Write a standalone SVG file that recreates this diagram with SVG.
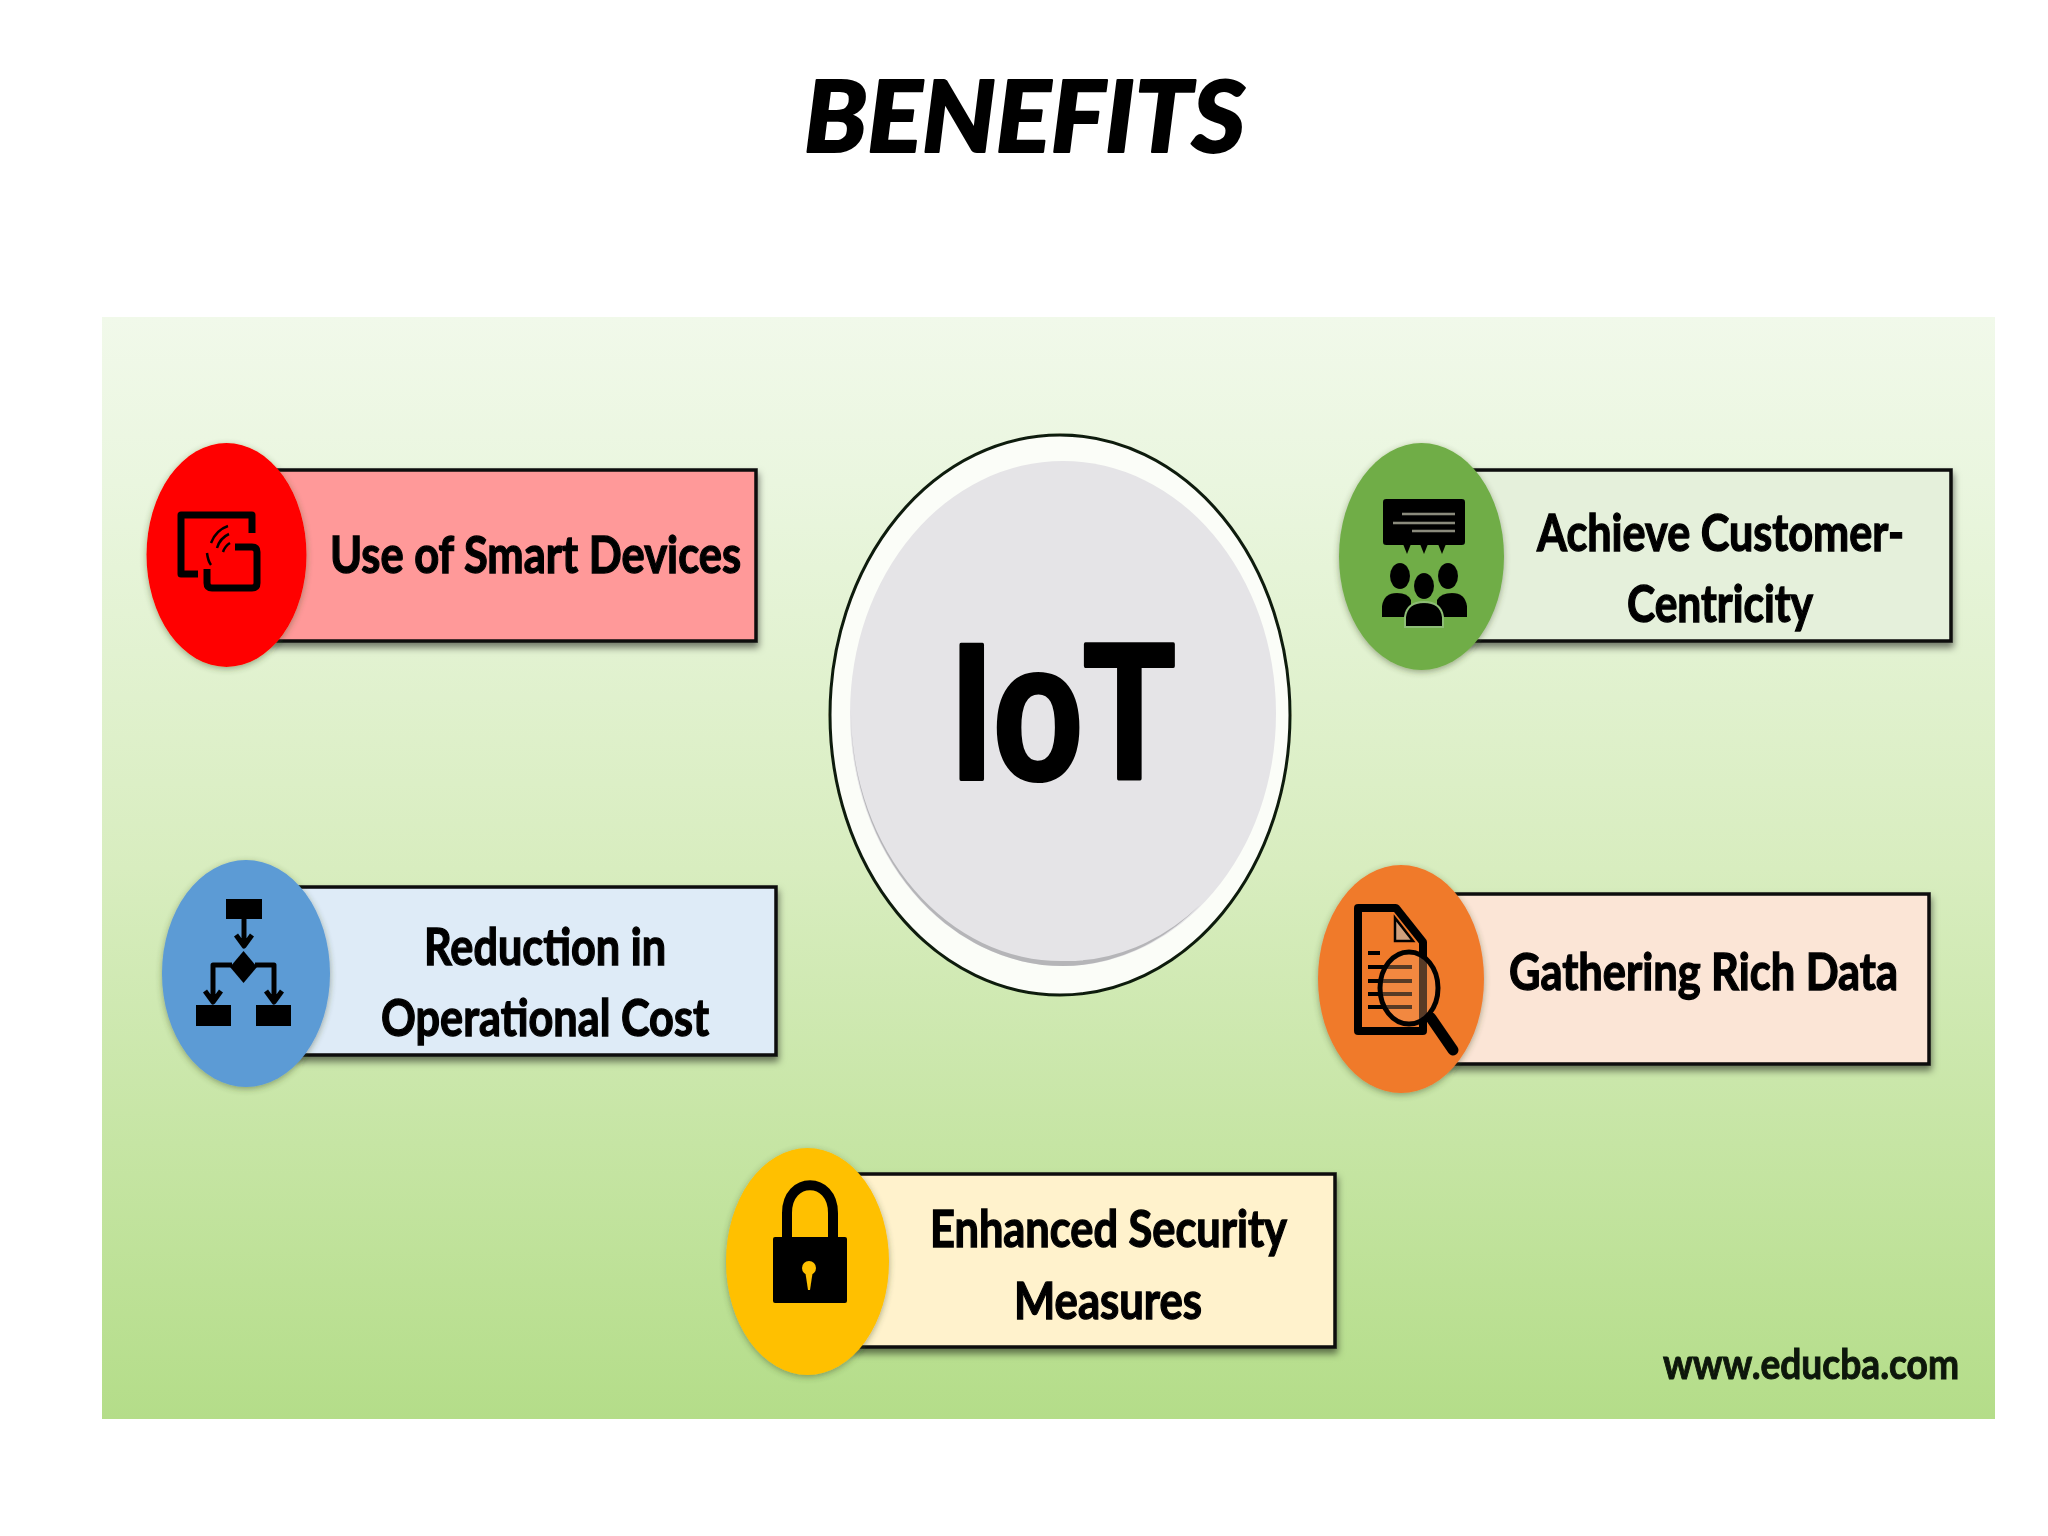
<svg xmlns="http://www.w3.org/2000/svg" width="2048" height="1536" viewBox="0 0 2048 1536">
  <defs>
    <linearGradient id="panelFill" x1="0" y1="0" x2="0" y2="1">
      <stop offset="0" stop-color="#f1f9ea"/>
      <stop offset="0.15" stop-color="#eaf6df"/>
      <stop offset="0.5" stop-color="#d8edbf"/>
      <stop offset="1" stop-color="#b4dd89"/>
    </linearGradient>
    <filter id="shadow" x="-15%" y="-15%" width="130%" height="135%">
      <feDropShadow dx="1" dy="5" stdDeviation="3.500" flood-color="#000" flood-opacity="0.5"/>
    </filter>
    <filter id="discShadow" x="-15%" y="-15%" width="130%" height="130%">
      <feDropShadow dx="0" dy="2" stdDeviation="3" flood-color="#3c4a20" flood-opacity="0.45"/>
    </filter>
    <filter id="soft" filterUnits="userSpaceOnUse" x="0" y="0" width="2048" height="1536">
      <feGaussianBlur stdDeviation="0.6"/>
    </filter>
    <style>
      .label { font-family: "Lato", "Liberation Sans", sans-serif; font-weight: 700; font-size: 52px; fill: #050505; stroke: #050505; stroke-width: 1.4; }
      .box { stroke: #0a0a0a; stroke-width: 3.5; filter: url(#shadow); }
      .disc { filter: url(#discShadow); }
      .ink { fill: #040404; }
      .line { fill: none; stroke: #040404; stroke-linejoin: round; }
    </style>
  </defs>
  <rect width="2048" height="1536" fill="#ffffff"/>
  <text id="title" x="804" y="152" font-family="Lato, 'Liberation Sans', sans-serif" font-weight="900" font-style="italic" font-size="99" textLength="441" lengthAdjust="spacingAndGlyphs" fill="#000" stroke="#000" stroke-width="2" stroke-linejoin="round">BENEFITS</text>
  <rect id="panel" x="102" y="317" width="1893" height="1102" fill="url(#panelFill)"/>

  <g id="nodes" filter="url(#soft)">
  <g id="node-iot">
    <ellipse cx="1060" cy="715" rx="230" ry="280" fill="#fbfdf8" stroke="#101a0c" stroke-width="3"/>
    <ellipse cx="1063" cy="713.500" rx="213" ry="252.500" fill="#e5e4e7"/>
    <path d="M851 713.500 A212 252.500 0 0 0 1063 966 A212 252.500 0 0 0 1200 905 A212 250 0 0 1 1063 961 A210 250 0 0 1 851 713.500Z" fill="#b5b5b8"/>
    <text x="951" y="779" font-family="'Liberation Sans', Arial, sans-serif" font-weight="700" font-size="194" textLength="224" lengthAdjust="spacingAndGlyphs" fill="#000" stroke="#000" stroke-width="4" stroke-linejoin="round">IoT</text>
  </g>

  <g id="node-smart-devices">
    <rect class="box" x="270" y="470" width="486" height="171" fill="#ff9999"/>
    <ellipse class="disc" cx="226.500" cy="555" rx="80" ry="112" fill="#ff0000"/>
    <g>
      <path class="line" stroke-width="7" stroke="#2c0404" d="M252 533 V515 H181 V574 H198"/>
      <path class="line" stroke-width="7" d="M207 569 V583 Q207 588 212 588 H252 Q257 588 257 583 V552 Q257 547 252 547 H235"/>
      <path class="line" stroke="#8a1010" stroke-width="2.500" d="M211 543 Q216 530 228 526 M217 548 Q220 538 229 534 M223 552 Q225 546 230 543 M207 553 Q208 561 211 565"/>
    </g>
    <text class="label" x="330" y="573" textLength="411" lengthAdjust="spacingAndGlyphs">Use of Smart Devices</text>
  </g>

  <g id="node-operational-cost">
    <rect class="box" x="290" y="887" width="486" height="168" fill="#deebf7"/>
    <ellipse class="disc" cx="246" cy="973.500" rx="84" ry="113.500" fill="#5b9bd5"/>
    <g>
      <rect class="ink" x="226" y="899" width="36" height="20"/>
      <path class="line" stroke-width="5" d="M244 919 V944 M236 935 L244 946 L252 935"/>
      <path class="ink" d="M243.500 951 L257 967 L243.500 983 L230 967Z"/>
      <path class="line" stroke-width="5" d="M232 965 H213 V1000 M205 991 L213 1002 L221 991 M255 965 H274 V1000 M266 991 L274 1002 L282 991"/>
      <rect class="ink" x="196" y="1005" width="35" height="21"/>
      <rect class="ink" x="256" y="1005" width="35" height="21"/>
    </g>
    <text class="label" x="424" y="965" textLength="242" lengthAdjust="spacingAndGlyphs">Reduction in</text>
    <text class="label" x="381" y="1036" textLength="328" lengthAdjust="spacingAndGlyphs">Operational Cost</text>
  </g>

  <g id="node-customer-centricity">
    <rect class="box" x="1465" y="470" width="486" height="171" fill="#e5f0db"/>
    <ellipse class="disc" cx="1421.500" cy="556.500" rx="82.500" ry="113.500" fill="#70ad47"/>
    <g>
      <rect class="ink" x="1383" y="499" width="82" height="46" rx="3"/>
      <path class="ink" d="M1403 544 H1411 L1407 554Z M1420 544 H1428 L1424 554Z M1438 544 H1446 L1442 554Z"/>
      <path fill="none" stroke="#8a8a7c" stroke-width="2.500" d="M1402 514 H1455 M1393 523 H1455 M1412 531 H1455"/>
      <ellipse class="ink" cx="1400" cy="576" rx="10" ry="13"/>
      <ellipse class="ink" cx="1448" cy="576" rx="10" ry="13"/>
      <ellipse class="ink" cx="1424" cy="586" rx="10" ry="13"/>
      <path class="ink" d="M1382 617 V606 Q1384 593 1397 593 Q1408 593 1411 600 L1411 617Z"/>
      <path class="ink" d="M1467 617 V606 Q1465 593 1452 593 Q1441 593 1437 600 L1437 617Z"/>
      <path d="M1405 627 V617 Q1407 602 1424 602 Q1441 602 1443 617 V627Z" fill="#040404" stroke="#8dbd75" stroke-width="2"/>
    </g>
    <text class="label" x="1537" y="551" textLength="367" lengthAdjust="spacingAndGlyphs">Achieve Customer-</text>
    <text class="label" x="1627" y="622" textLength="186" lengthAdjust="spacingAndGlyphs">Centricity</text>
  </g>

  <g id="node-rich-data">
    <rect class="box" x="1443" y="894" width="486" height="170" fill="#fbe5d6"/>
    <ellipse class="disc" cx="1401" cy="979" rx="83" ry="114" fill="#f07a2b"/>
    <g>
      <path class="line" stroke-width="8" d="M1358 908 H1396 L1423 942 V1031 H1358Z"/>
      <path d="M1395 918 V941 H1413Z" fill="#cf9f7c" stroke="#040404" stroke-width="2.500"/>
      <path class="line" stroke-width="4" d="M1368 953 H1380 M1368 967 H1412 M1368 981 H1412 M1368 994 H1412 M1368 1007 H1412"/>
      <ellipse cx="1409" cy="988" rx="29" ry="36" fill="#f5a36c" fill-opacity="0.35" stroke="#040404" stroke-width="5"/>
      <path class="line" stroke-width="11" stroke-linecap="round" d="M1431 1018 L1453 1050"/>
    </g>
    <text class="label" x="1509" y="990" textLength="389" lengthAdjust="spacingAndGlyphs">Gathering Rich Data</text>
  </g>

  <g id="node-security">
    <rect class="box" x="849" y="1174" width="486" height="173" fill="#fff2cc"/>
    <ellipse class="disc" cx="807.500" cy="1261.500" rx="81.500" ry="113.500" fill="#ffc000"/>
    <g>
      <path class="line" stroke-width="10" d="M787 1240 V1213 C787 1176 833 1176 833 1213 V1240"/>
      <rect class="ink" x="773" y="1237" width="74" height="66" rx="2"/>
      <circle cx="809" cy="1268" r="7" fill="#ffc000"/>
      <path d="M805 1270 H813 L810 1290 H808Z" fill="#ffc000"/>
    </g>
    <text class="label" x="930" y="1247" textLength="357" lengthAdjust="spacingAndGlyphs">Enhanced Security</text>
    <text class="label" x="1014" y="1319" textLength="188" lengthAdjust="spacingAndGlyphs">Measures</text>
  </g>

  <text id="watermark" x="1663" y="1379" font-family="Lato, 'Liberation Sans', sans-serif" font-weight="700" font-size="42" textLength="296" lengthAdjust="spacingAndGlyphs" fill="#0a1808" stroke="#0a1808" stroke-width="1">www.educba.com</text>
  </g>
</svg>
